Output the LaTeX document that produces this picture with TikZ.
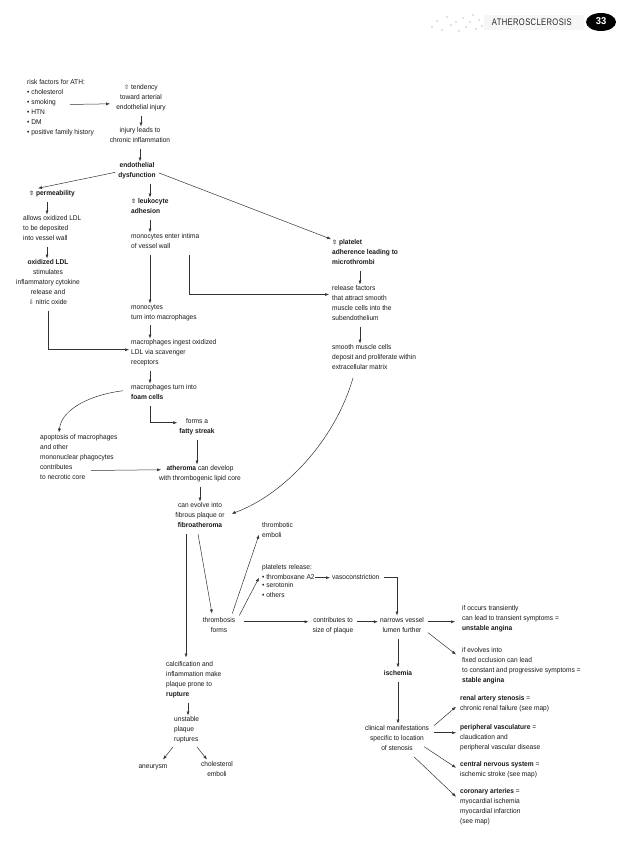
\documentclass[tikz,border=0pt]{standalone}
\usepackage{fontspec}
\setmainfont{Liberation Sans}[FakeStretch=0.94]
\newfontfamily\symfont{DejaVu Sans}
\newfontfamily\headfont{Liberation Sans}[FakeStretch=0.8,LetterSpace=4]
\usetikzlibrary{arrows.meta,calc,shapes.geometric}
\newcommand\upar{{\symfont\fontsize{6}{10}\selectfont ⇧}}
\newcommand\dnar{{\symfont\fontsize{6}{10}\selectfont ⇩}}
\begin{document}
\begin{tikzpicture}[x=1pt,y=-1pt,
  every node/.style={inner sep=0pt, font=\fontsize{7}{10}\selectfont, text=black!90,
    execute at begin node=\strut, execute at end node=\strut},
  tl/.style={anchor=north west, align=left},
  tc/.style={anchor=north, align=center},
  arr/.style={draw=black!80, line width=0.5pt, -{Latex[length=4pt,width=3pt]}, shorten <=3pt, shorten >=1pt},
  plainarr/.style={draw=black!80, line width=0.5pt, -{Latex[length=4pt,width=3pt]}}]
\useasboundingbox (0,0) rectangle (638,849);
\fill[white] (0,0) rectangle (638,849);

% header
\foreach \p in {(432,27),(437,21),(442,30),(447,17),(451,25),(456,22),(459,31),(463,18),(466,27),(470,22),(473,15),(476,29),(479,20),(482,26),(488,17),(494,29),(573,16),(578,28),(582,19)}
  \fill[gray!45] \p circle (0.8);
\fill[gray!7] (484,15) rectangle (584,30);
\node[anchor=east, font=\headfont\fontsize{9.5}{10}\selectfont, text=black!85] (hd) at (572,23) {ATHEROSCLEROSIS};
\node[shape=ellipse, fill=black, minimum width=30pt, minimum height=18pt, text=white,
  font=\bfseries\fontsize{10}{10}\selectfont, execute at begin node={}, execute at end node={}] (pg) at (601,22) {33};

% coordinates for vertical columns
\coordinate (cA) at (150,0);
\coordinate (cL) at (47,0);
\coordinate (cR) at (360,0);
\coordinate (cB) at (186,0);
\coordinate (cD) at (398,0);
\coordinate (cE) at (188,0);

% nodes
\begin{scope}[yshift=-2.5pt]
\node[tl] (risk) at (27,77) {risk factors for ATH:\\• cholesterol\\• smoking\\• HTN\\• DM\\• positive family history};
\node[tc] (tend) at (141,82) {\upar{} tendency\\toward arterial\\endothelial injury};
\node[tc] (inj) at (140,125) {injury leads to\\chronic inflammation};
\node[tc, font=\bfseries\fontsize{7}{10}\selectfont] (endo) at (137,160) {endothelial\\dysfunction};
\node[tl, font=\bfseries\fontsize{7}{10}\selectfont] (perm) at (29,186) {\upar{} permeability};
\node[tl] (allow) at (23,213) {allows oxidized LDL\\to be deposited\\into vessel wall};
\node[tc] (oxld) at (48,257) {\textbf{oxidized LDL}\\stimulates\\inflammatory cytokine\\release and\\\dnar{} nitric oxide};
\node[tl, font=\bfseries\fontsize{7}{10}\selectfont] (leuk) at (131,196) {\upar{} leukocyte\\adhesion};
\node[tl] (mono1) at (131,231) {monocytes enter intima\\of vessel wall};
\node[tl] (mono2) at (131,302) {monocytes\\turn into macrophages};
\node[tl] (ingest) at (131,337) {macrophages ingest oxidized\\LDL via scavenger\\receptors};
\node[tl] (foam) at (131,382) {macrophages turn into\\\textbf{foam cells}};
\node[tc] (fatty) at (197,416) {forms a\\\textbf{fatty streak}};
\node[tl] (apop) at (40,432) {apoptosis of macrophages\\and other\\mononuclear phagocytes\\contributes\\to necrotic core};
\node[tc] (ather) at (200,463) {\textbf{atheroma} can develop\\with thrombogenic lipid core};
\node[tc] (evolve) at (200,500) {can evolve into\\fibrous plaque or\\\textbf{fibroatheroma}};
\node[tl, font=\bfseries\fontsize{7}{10}\selectfont] (plat) at (332,237) {\upar{} platelet\\adherence leading to\\microthrombi};
\node[tl] (rel) at (332,283) {release factors\\that attract smooth\\muscle cells into the\\subendothelium};
\node[tl] (smc) at (332,342) {smooth muscle cells\\deposit and proliferate within\\extracellular matrix};
\node[tl] (temb) at (262,520) {thrombotic\\emboli};
\node[tl] (prel) at (262,560) {platelets release:};
\node[tl] (txa) at (262,570) {• thromboxane A2};
\node[tl] (sero) at (262,580) {• serotonin\\• others};
\node[tl] (vaso) at (332,570) {vasoconstriction};
\node[tc] (thr) at (219,615) {thrombosis\\forms};
\node[tc] (contr) at (333,615) {contributes to\\size of plaque};
\node[tc] (narr) at (402,615) {narrows vessel\\lumen further};
\node[tl] (unst) at (462,603) {if occurs transiently\\can lead to transient symptoms =\\\textbf{unstable angina}};
\node[tl] (stab) at (462,645) {if evolves into\\fixed occlusion can lead\\to constant and progressive symptoms =\\\textbf{stable angina}};
\node[tc, font=\bfseries\fontsize{7}{10}\selectfont] (isch) at (398,666) {ischemia};
\node[tc] (clin) at (397,723) {clinical manifestations\\specific to location\\of stenosis};
\node[tl] (renal) at (460,693) {\textbf{renal artery stenosis} =\\chronic renal failure (see map)};
\node[tl] (peri) at (460,722) {\textbf{peripheral vasculature} =\\claudication and\\peripheral vascular disease};
\node[tl] (cns) at (460,759) {\textbf{central nervous system} =\\ischemic stroke (see map)};
\node[tl] (coro) at (460,786) {\textbf{coronary arteries} =\\myocardial ischemia\\myocardial infarction\\(see map)};
\node[tl] (calc) at (166,659) {calcification and\\inflammation make\\plaque prone to\\\textbf{rupture}};
\node[tl] (unpl) at (174,714) {unstable\\plaque\\ruptures};
\node[tc] (aneu) at (153,759) {aneurysm};
\node[tc] (chol) at (217,759) {cholesterol\\emboli};
\end{scope}

% connectors
\draw[arr, shorten >=6pt] ($(risk.north west)+(40,25)$) -- ($(tend.west)+(0,5)$);
\draw[arr] (tend.south) -- (tend.south |- inj.north);
\draw[arr] (inj.south) -- (inj.south |- endo.north);
\draw[arr] (endo.west) -- ($(perm.north west)+(8,0)$);
\draw[arr] (endo.east) -- (plat.north west);
\draw[arr] (endo.south -| cA) -- (leuk.north -| cA);
\draw[arr] (perm.south -| cL) -- (allow.north -| cL);
\draw[arr] (allow.south -| cL) -- (oxld.north -| cL);
\draw[arr, shorten >=2pt] (oxld.south) |- ($(ingest.west)+(0,-4)$);
\draw[arr] (leuk.south -| cA) -- (mono1.north -| cA);
\draw[arr] (mono1.south -| cA) -- (mono2.north -| cA);
\draw[arr, shorten >=3pt] ($(mono1.south west)+(58,0)$) |- ($(rel.north west)+(0,9)$);
\draw[arr] (mono2.south -| cA) -- (ingest.north -| cA);
\draw[arr] (ingest.south -| cA) -- (foam.north -| cA);
\draw[arr] (plat.south -| cR) -- (rel.north -| cR);
\draw[arr] (rel.south -| cR) -- (smc.north -| cR);
\draw[plainarr] ($(smc.south west)+(21,5)$) .. controls (335,440) and (285,494) .. ($(evolve.east)+(7,-3)$);
\draw[arr, shorten >=2pt] (foam.south -| cA) |- ($(fatty.west)+(0,-5)$);
\draw[plainarr] ($(foam.west)+(-8,-3)$) .. controls (95,394) and (62,407) .. ($(apop.north west)+(19,-2)$);
\draw[arr] (fatty.south) -- (fatty.south |- ather.north);
\draw[plainarr] ($(apop.north west)+(51,36)$) -- ($(ather.west)+(2,-5)$);
\draw[arr] (ather.south) -- (ather.south |- evolve.north);
\draw[arr, shorten >=4pt] (evolve.south -| cB) -- (calc.north -| cB);
\draw[plainarr] ($(evolve.south)+(-2,3)$) -- ($(thr.north)+(-7,-4)$);
\draw[plainarr] ($(thr.north east)+(-3,-4)$) -- ($(temb.west)+(-3,3)$);
\draw[plainarr] ($(thr.north east)+(4,-2)$) -- ($(txa.west)+(-3,0)$);
\draw[arr, shorten <=0pt, shorten >=2pt] (txa.east) -- (vaso.west);
\draw[arr, shorten <=4pt, shorten >=2pt] (vaso.east) -| ($(narr.north)+(-5,0)$);
\draw[plainarr] ($(thr.east)+(9,-5)$) -- ($(contr.west)+(-4,-5)$);
\draw[plainarr] ($(contr.east)+(3,-5)$) -- ($(narr.west)+(-2,-5)$);
\draw[plainarr] ($(narr.east)+(4,-5)$) -- ($(unst.west)+(-7,2)$);
\draw[plainarr] ($(narr.east)+(4,6)$) -- ($(stab.north west)+(-6,7)$);
\draw[arr] (narr.south -| cD) -- (isch.north -| cD);
\draw[arr, shorten >=2pt] (isch.south -| cD) -- (clin.north -| cD);
\draw[plainarr] ($(clin.north east)+(5,0)$) -- ($(renal.west)+(-4,2)$);
\draw[plainarr] ($(clin.east)+(5,-7)$) -- ($(peri.west)+(-4,-6)$);
\draw[plainarr] ($(clin.east)+(-5,7)$) -- ($(cns.west)+(-4,-3)$);
\draw[plainarr] ($(clin.south east)+(-15,3)$) -- ($(coro.west)+(-4,-11)$);
\draw[arr] (calc.south -| cE) -- (unpl.north -| cE);
\draw[plainarr] ($(unpl.south west)+(-1,2)$) -- ($(aneu.north)+(10,-2)$);
\draw[plainarr] ($(unpl.south west)+(23,2)$) -- ($(chol.north)+(-10,-2)$);
\end{tikzpicture}
\end{document}
